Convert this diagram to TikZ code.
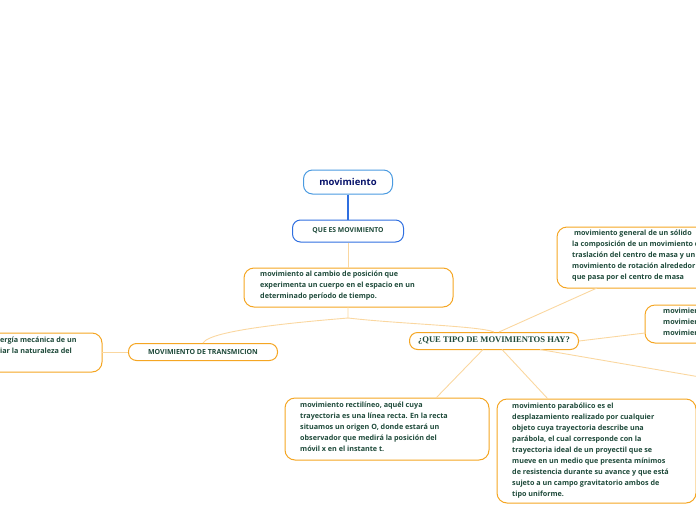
\documentclass[tikz,border=0pt]{standalone}
\usepackage{fontspec}
\setmainfont{Open Sans}
\newfontfamily\serifb{Liberation Serif}[BoldFont={Liberation Serif Bold}]
\definecolor{txt}{HTML}{1E4A3A}
\definecolor{org}{HTML}{F5A623}
\definecolor{lorg}{HTML}{FAD7A0}
\definecolor{blu}{HTML}{2F6FE0}
\definecolor{lblu}{HTML}{4A9AE0}
\begin{document}
\begin{tikzpicture}[x=1pt,y=-1pt,
  box/.style={draw=org,line width=1pt,rounded corners=10pt,fill=white},
  tx/.style={text=txt,font=\fontsize{7.2}{11}\selectfont\bfseries,align=left,anchor=north west,inner sep=0pt},
  con/.style={draw=lorg,line width=0.9pt}]
\useasboundingbox (0,0) rectangle (696,520);
\clip (0,0) rectangle (696,520);
% top nodes
\node[draw=lblu,line width=1pt,rounded corners=9pt,minimum width=89pt,minimum height=24pt,text=txt!40!blue!60!black,font=\fontsize{9.5}{11}\selectfont\bfseries] (m) at (348,182) {movimiento};
\node[draw=blu,line width=1pt,rounded corners=8pt,minimum width=111pt,minimum height=22pt,text=txt,font=\fontsize{6.8}{8}\selectfont\bfseries] (q) at (348,231) {QUE ES MOVIMIENTO};
\draw[blu,line width=1.3pt] (m.south) -- (q.north);
% definition
\draw[box] (244,268) rectangle (453,307);
\node[tx] (d) at (260,271) {movimiento al cambio de posición que\\experimenta un cuerpo en el espacio en un\\determinado período de tiempo.};
\coordinate (db) at (348,307);
\coordinate (dq) at (348,268);
\draw[con] (q.south) -- (dq);
% transmicion
\node[box,rounded corners=8pt,minimum width=149pt,minimum height=17pt,text=txt,font=\fontsize{7}{8}\selectfont\bfseries] (t) at (203,352) {MOVIMIENTO DE TRANSMICION};
\draw[box] (-100,333) rectangle (102,372);
\node[tx] (tl) at (0,337) {ergía mecánica de un\\iar la naturaleza del};
\coordinate (tlr) at (102,352);
\draw[con] (t.west) -- (tlr);
% tipos
\node[box,rounded corners=8pt,minimum width=169pt,minimum height=17pt,text=txt,font=\fontsize{8.6}{9}\serifb\bfseries] (p) at (494,341) {¿QUE TIPO DE MOVIMIENTOS HAY?};
\draw[con] (db) -- (348,318) .. controls (300,322) and (210,330) .. (t.north);
\draw[con] (348,318) .. controls (400,324) and (480,326) .. (p.north);
% right top
\draw[box] (557,227) rectangle (760,288);
\node[tx] (r1) at (572,230) {\ movimiento general de un sólido\\la composición de un movimiento de\\traslación del centro de masa y un\\movimiento de rotación alrededor\\que pasa por el centro de masa};
\coordinate (r1b) at (597,288);
\draw[con] (p.north) ++(5,0) -- (r1b);
% right mid
\draw[box] (645,305) rectangle (760,343);
\node[tx] (r2) at (663,308) {movimiento\\movimiento\\movimiento};
\coordinate (r2l) at (645,333);
\draw[con] (p.east) -- (r2l);
\coordinate (r3) at (700,377);
\draw[con] (540,349.5) -- (r3);
% rectilineo
\draw[box] (285,398) rectangle (489,460);
\node[tx] (rl) at (300,402) {movimiento rectilíneo, aquél cuya\\trayectoria es una línea recta. En la recta\\situamos un origen O, donde estará un\\observador que medirá la posición del\\móvil x en el instante t.};
\coordinate (rlt) at (436,398);
\draw[con] (483,349.5) -- (rlt);
% parabolico
\draw[box] (497,399) rectangle (696,503);
\node[tx] (pb) at (512,403) {movimiento parabólico es el\\desplazamiento realizado por cualquier\\objeto cuya trayectoria describe una\\parábola, el cual corresponde con la\\trayectoria ideal de un proyectil que se\\mueve en un medio que presenta mínimos\\de resistencia durante su avance y que está\\sujeto a un campo gravitatorio ambos de\\tipo uniforme.};
\coordinate (pbt) at (548,399);
\draw[con] (502,349.5) -- (pbt);
\end{tikzpicture}
\end{document}
